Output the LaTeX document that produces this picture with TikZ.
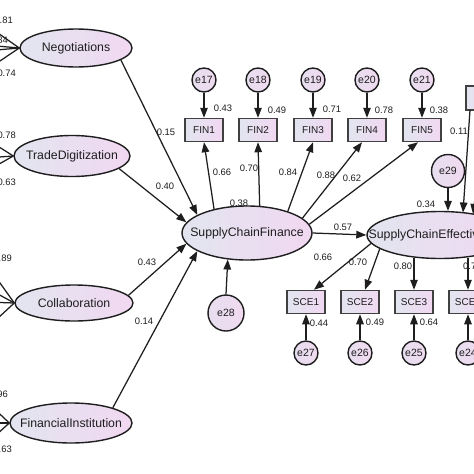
\documentclass[tikz,border=0pt]{standalone}
\usepackage{fontspec}
\setmainfont{Liberation Sans}
\usetikzlibrary{arrows.meta,shapes.geometric}
\definecolor{lineC}{HTML}{1E1E1E}
\definecolor{fillL}{HTML}{E2E5F0}
\definecolor{fillR}{HTML}{F1D8F1}
\definecolor{errL}{HTML}{E8DEF0}
\definecolor{errR}{HTML}{F0DAF0}
\definecolor{txt}{HTML}{1E1E1E}
\begin{document}
\begin{tikzpicture}[x=1pt,y=-1pt,
  lat/.style={ellipse,draw=lineC,line width=1.4pt,left color=fillL,right color=fillR,inner sep=0pt,minimum height=38pt,font=\fontsize{12.3}{13}\selectfont,text=txt},
  obs/.style={rectangle,draw=lineC!85,line width=1.5pt,left color=fillL,right color=fillR,inner sep=0pt,minimum width=38pt,minimum height=23pt,font=\fontsize{10}{11}\selectfont,text=txt},
  err/.style={circle,draw=lineC,line width=1.4pt,left color=errL,right color=errR,inner sep=0pt,minimum size=24pt,font=\fontsize{10.5}{11}\selectfont,text=txt},
  coef/.style={font=\fontsize{9.4}{10}\selectfont,inner sep=0pt,text=txt},
  arr/.style={line width=1.25pt,draw=lineC,-{Triangle[length=10pt,width=7.5pt]}},
  ln/.style={line width=1.25pt,draw=lineC}]
\path[use as bounding box] (0,0) rectangle (474,474);
\clip (0,0) rectangle (474,474);
\fill[white] (0,0) rectangle (474,474);

% left latent variables
\node[lat,minimum width=112pt] (neg) at (76,48) {\makebox[0pt]{Negotiations}};
\node[lat,minimum width=116pt,minimum height=41pt] (td) at (72,156) {\makebox[0pt]{TradeDigitization}};
\node[lat,minimum width=118pt,minimum height=36pt] (col) at (74,303) {\makebox[0pt]{Collaboration}};
\node[lat,minimum width=122pt,minimum height=40pt] (fi) at (71,423) {\makebox[0pt]{FinancialInstitution}};

% central latent variables
\node[lat,minimum width=130pt,minimum height=54pt] (scf) at (247,233) {\makebox[0pt]{SupplyChainFinance}};
\node[lat,minimum width=146pt,minimum height=47pt] (sce) at (440,235) {\makebox[0pt]{SupplyChainEffectiveness}};

% left fan lines (indicators cut off)
\coordinate (n1) at (-15,24); \coordinate (n2) at (-15,45); \coordinate (n3) at (-15,51); \coordinate (n4) at (-15,71);
\foreach \c in {n1,n2,n3,n4} \draw[ln] (neg.west) -- (\c);
\coordinate (t1) at (-15,138); \coordinate (t2) at (-15,158); \coordinate (t3) at (-15,172);
\foreach \c in {t1,t2,t3} \draw[ln] (td.west) -- (\c);
\coordinate (c1) at (-15,262); \coordinate (c2) at (-15,287); \coordinate (c3) at (-15,302); \coordinate (c4) at (-15,330);
\foreach \c in {c1,c2,c3,c4} \draw[ln] (col.west) -- (\c);
\coordinate (f1) at (-15,400); \coordinate (f2) at (-15,423); \coordinate (f3) at (-15,445);
\foreach \c in {f1,f2,f3} \draw[ln] (fi.west) -- (\c);

\node[coef,anchor=east] (ln1) at (13,20) {0.81};
\node[coef,anchor=east] (ln2) at (8,40) {0.84};
\node[coef,anchor=east] (ln3) at (16,73) {0.74};
\node[coef,anchor=east] (lt1) at (16,135) {0.78};
\node[coef,anchor=east] (lt2) at (16,182) {0.63};
\node[coef,anchor=east] (lc1) at (12,258) {0.89};
\node[coef,anchor=east] (lf1) at (8,394) {0.96};
\node[coef,anchor=east] (lf2) at (12,449) {0.63};

% structural arrows into SCF
\draw[arr] (neg.-15) -- (scf.160);
\draw[arr] (td.-15) -- (scf.170);
\draw[arr] (col.8) -- (scf.190);
\draw[arr] (fi.20) -- (scf.200);
\node[coef] (p1) at (166,132) {0.15};
\node[coef] (p2) at (165,186) {0.40};
\node[coef] (p3) at (147,262) {0.43};
\node[coef] (p4) at (144,321) {0.14};

% FIN indicators
\foreach \i/\x/\e in {1/204/17,2/258/18,3/313/19,4/367/20,5/422/21}{
  \node[obs] (fin\i) at (\x,130) {FIN\i};
  \node[err] (e\e) at (\x,80) {e\e};
  \draw[arr] (e\e) -- (fin\i);
}
\node[coef] (r1) at (223,108) {0.43};
\node[coef] (r2) at (277,110) {0.49};
\node[coef] (r3) at (332,109) {0.71};
\node[coef] (r4) at (384,110) {0.78};
\node[coef] (r5) at (439,110) {0.38};

\draw[arr] (scf.144) -- (fin1.south);
\draw[arr] (scf.65) -- (fin2.south);
\draw[arr] (scf.28) -- (fin3.south);
\draw[arr] (scf.15) -- ([xshift=-5pt]fin4.south);
\draw[arr] (scf.8) -- ([xshift=-4pt]fin5.south);
\node[coef] (l1) at (222,172) {0.66};
\node[coef] (l2) at (249,168) {0.70};
\node[coef] (l3) at (288,172) {0.84};
\node[coef] (l4) at (326,175) {0.88};
\node[coef] (l5) at (352,178) {0.62};
\node[coef] (rscf) at (239,203) {0.38};

% e28
\node[err,minimum size=36pt] (e28) at (226,313) {e28};
\draw[arr] (e28.north) -- (scf.234);

% SCF -> SCE
\draw[arr] (scf.east) -- (sce.west);
\node[coef] (b1) at (343,227) {0.57};

% e29 and top-right box
\node[err,minimum size=33pt] (e29) at (448,171) {e29};
\draw[arr] (e29.south) -- (e29.south |- sce.north);
\node[coef] (rsce) at (426,204) {0.34};
\node[obs,minimum width=26pt,minimum height=24pt] (xb) at (479,98) {};
\coordinate (xb1) at (470,110);
\coordinate (xb2) at (486,110);
\coordinate (sceA) at (463,212.5);
\coordinate (sceB) at (473,214);
\draw[arr] (xb1) -- (sceA);
\draw[arr] (xb2) -- (sceB);
\node[coef] (g1) at (459,131) {0.11};

% SCE indicators
\foreach \i/\x/\e in {1/306/27,2/360/26,3/414/25,4/468/24}{
  \node[obs] (sce\i) at (\x,302) {SCE\i};
  \node[err] (e\e) at (\x,353) {e\e};
  \draw[arr] (e\e) -- (sce\i);
}
\draw[arr] (sce.187) -- ([xshift=8pt]sce1.north);
\draw[arr] (sce.193) -- ([xshift=5pt]sce2.north);
\draw[arr] ([yshift=1.5pt]sce3.north |- sce.south) -- (sce3.north);
\draw[arr] ([yshift=1.5pt]sce4.north |- sce.south) -- (sce4.north);
\node[coef] (m1) at (323,257) {0.66};
\node[coef] (m2) at (358,262) {0.70};
\node[coef] (m3) at (403,266) {0.80};
\node[coef,anchor=west] (m4) at (463,266) {0.75};
\node[coef] (q1) at (319,323) {0.44};
\node[coef] (q2) at (375,322) {0.49};
\node[coef] (q3) at (429,322) {0.64};
\end{tikzpicture}
\end{document}
